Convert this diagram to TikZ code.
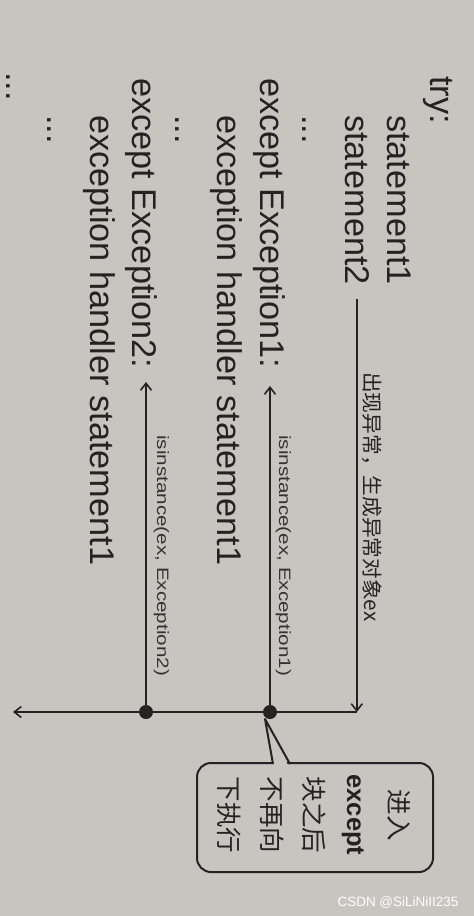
\documentclass[tikz,border=0pt]{standalone}
\usepackage{fontspec}
\usepackage{graphicx}
\setmainfont{Liberation Sans}
\newfontfamily\cjk{Noto Sans CJK SC}
\usetikzlibrary{arrows.meta}
\definecolor{paper}{RGB}{200,197,192}
\definecolor{ink}{RGB}{36,34,34}
\definecolor{labelink}{RGB}{52,50,50}
\begin{document}
\begin{tikzpicture}[x=1pt,y=-1pt,
  code/.style={anchor=base west, rotate=-90, inner sep=0pt, text=ink, font=\fontsize{34.3}{40}\selectfont},
  lbl/.style={anchor=base west, rotate=-90, inner sep=0pt, text=labelink, font=\fontsize{16.5}{20}\selectfont},
  cn/.style={anchor=west, rotate=-90, inner sep=0pt, text=ink, font=\cjk\fontsize{20.7}{24}\selectfont},
  wire/.style={draw=ink, line width=1.6pt},
  arr/.style={wire, -{Straight Barb[length=7pt,width=11pt]}},
  junction/.style={circle, fill=ink, inner sep=0pt, minimum size=14pt},
  bubble/.style={draw=ink, line width=2pt, rounded corners=14pt, fill=paper, minimum width=236pt, minimum height=109pt, inner sep=0pt},
  bubbletext/.style={rotate=-90, align=center, inner sep=0pt, text=ink, font=\cjk\fontsize{25.5}{42.5}\selectfont},
  wmark/.style={text=white, font=\fontsize{13.5}{15}\selectfont, inner sep=0pt}
]
\fill[paper] (0,0) rectangle (474,916);
\useasboundingbox (0,0) rectangle (474,916);

% code lines
\node[code] (try) at (430,76) {try:};
\node[code] (s1) at (387.5,115) {statement1};
\node[code] (s2) at (345,115) {statement2};
\node[code] (dots1) at (302.5,115) {...};
\node[code] (e1) at (260,78) {except Exception1:};
\node[code] (h1) at (217.5,115) {exception handler statement1};
\node[code] (dots2) at (175,115) {...};
\node[code] (e2) at (132.5,78) {except Exception2:};
\node[code] (h2) at (90,115) {exception handler statement1};
\node[code] (dots3) at (47.5,115) {...};
\node[code] (dots4) at (6,72) {...};

% labels
\node[cn] (raise) at (372,372) {出现异常，生成异常对象ex};
\node[lbl] (l1) at (279,435) {\scalebox{1.25}[1]{isinstance(ex, Exception1)}};
\node[lbl] (l2) at (157,435) {\scalebox{1.25}[1]{isinstance(ex, Exception2)}};

% connectors
\coordinate (exitpt) at (13,712);
\path (s2.east) ++(0,14) coordinate (start2);
\coordinate (bend) at (start2 |- exitpt);
\node[junction] (d1) at (270,712) {};
\node[junction] (d2) at (146,712) {};
\coordinate (t1) at (270,386);
\coordinate (t2) at (146,382);
\draw[arr] (start2) -- (bend);
\draw[arr] (bend) -- (exitpt);
\draw[arr] (d1) -- (t1);
\draw[arr] (d2) -- (t2);

% callout
\node[bubble] (box) at (315,817.5) {};
\coordinate (ptip) at (265,719);
\fill[paper] (274.5,766) -- (ptip) -- (288.5,766) -- cycle;
\draw[ink, line width=2pt, line join=round] (273,764) -- (ptip) -- (290,764);
\node[bubbletext] (boxtext) at (314,815) {进入\\{\rmfamily\bfseries except}\\块之后\\不再向\\下执行};

% watermark
\node[wmark] (wm) at (398,903) {CSDN @SiLiNiII235};
\end{tikzpicture}
\end{document}
